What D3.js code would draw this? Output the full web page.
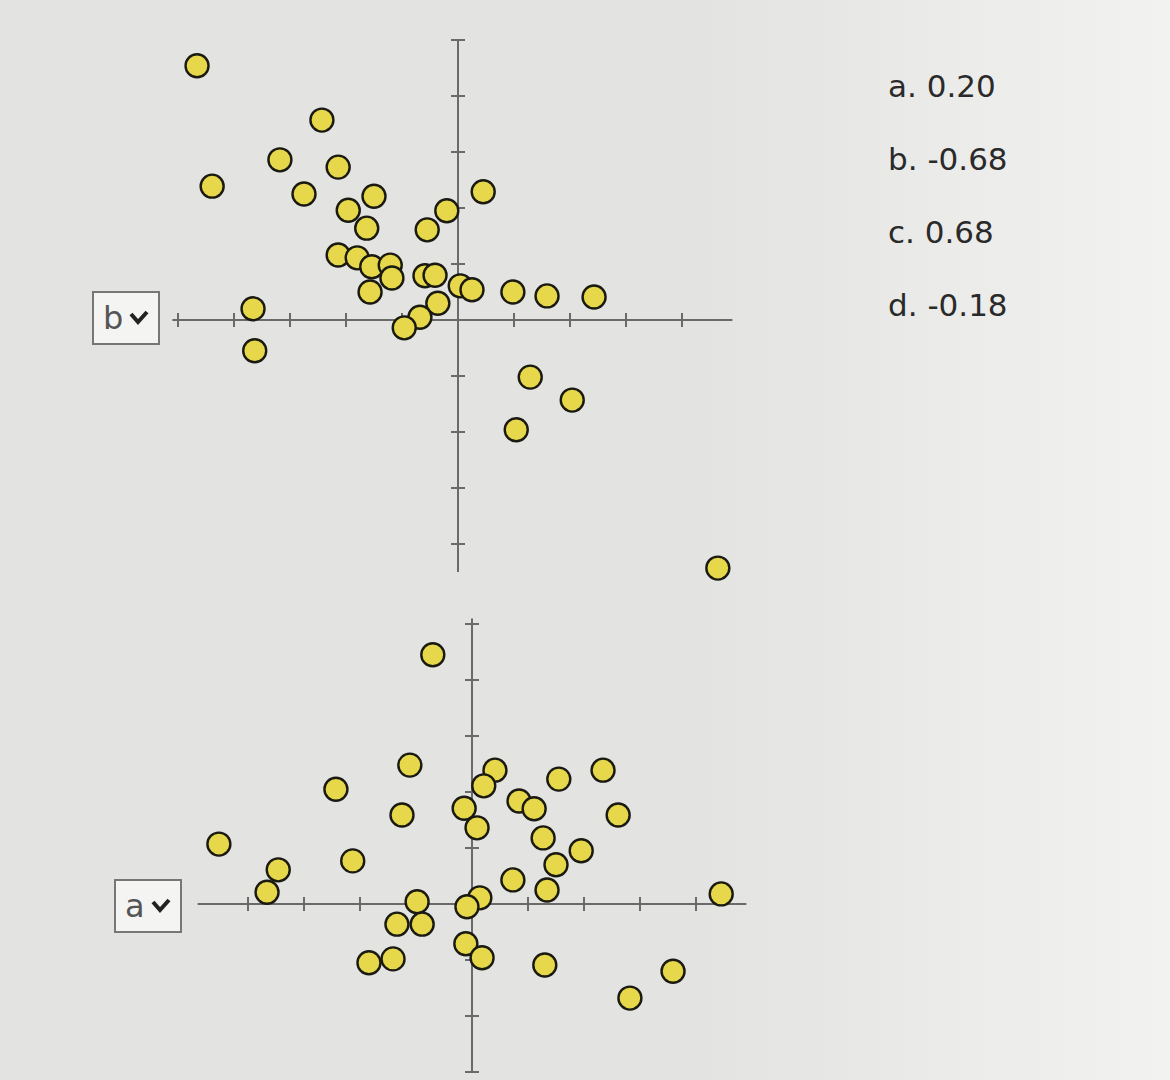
<!DOCTYPE html>
<html><head><meta charset="utf-8">
<script src="https://cdn.jsdelivr.net/npm/d3@7"></script>
<style>body{margin:0;background:#e4e4e2;}svg{display:block}</style>
</head><body>
<svg id="c" width="1170" height="1080"></svg>
<script>
const topX=[-4.66,-2.43,-3.18,-2.14,-4.39,-2.75,-1.5,-1.96,-1.63,0.45,-0.2,-0.55,-2.14,-1.8,-1.54,-1.21,-1.18,-1.57,-0.59,-0.41,0.04,0.25,-0.36,-0.68,-0.96,0.98,1.59,2.43,-3.66,-3.63,1.29,2.04,1.04,4.64];
const topY=[4.54,3.57,2.86,2.73,2.39,2.25,2.21,1.96,1.64,2.29,1.95,1.61,1.16,1.11,0.95,0.98,0.75,0.5,0.79,0.8,0.61,0.54,0.3,0.05,-0.14,0.5,0.43,0.41,0.2,-0.55,-1.02,-1.43,-1.96,-4.43];
const botX=[-0.7,-1.11,0.41,0.21,1.55,2.34,-2.43,-1.25,-0.14,0.84,1.11,2.61,0.09,1.27,-4.52,-2.13,1.95,1.5,-3.46,-3.66,0.73,1.34,-0.98,0.14,-0.09,-1.34,-0.89,-0.11,0.18,-1.84,-1.41,1.3,3.59,2.82,4.45];
const botY=[4.45,2.48,2.39,2.11,2.23,2.39,2.05,1.59,1.71,1.84,1.7,1.59,1.36,1.18,1.07,0.77,0.95,0.7,0.61,0.21,0.43,0.25,0.04,0.11,-0.05,-0.36,-0.36,-0.71,-0.96,-1.05,-0.98,-1.09,-1.2,-1.68,0.18];
const choices=["a. 0.20","b. -0.68","c. 0.68","d. -0.18"];
const labels=["b","a"];
const svg=d3.select("#c");
const g0=svg.append("defs").append("linearGradient").attr("id","bg").attr("x1",0).attr("x2",1);
g0.append("stop").attr("offset","0.6").attr("stop-color","#e3e3e1");
g0.append("stop").attr("offset","1").attr("stop-color","#f2f2f0");
svg.append("rect").attr("width",1170).attr("height",1080).attr("fill","url(#bg)");
function plot(xs,ys,ox,oy,xr,yr,lab,lx,ly){
  const x=d3.scaleLinear().domain([0,1]).range([ox,ox+56]);
  const y=d3.scaleLinear().domain([0,1]).range([oy,oy-56]);
  const g=svg.append("g");
  const st="#6a6a6a";
  g.append("line").attr("x1",x(xr[0])).attr("x2",x(xr[1])).attr("y1",oy).attr("y2",oy).attr("stroke",st).attr("stroke-width",2);
  g.append("line").attr("y1",y(yr[0])).attr("y2",y(yr[1])).attr("x1",ox).attr("x2",ox).attr("stroke",st).attr("stroke-width",2);
  d3.range(Math.ceil(xr[0]),Math.floor(xr[1])+1).filter(v=>v!==0).forEach(v=>g.append("line").attr("x1",x(v)).attr("x2",x(v)).attr("y1",oy-7).attr("y2",oy+7).attr("stroke",st).attr("stroke-width",2));
  d3.range(Math.ceil(yr[0]),Math.floor(yr[1])+1).filter(v=>v!==0).forEach(v=>g.append("line").attr("y1",y(v)).attr("y2",y(v)).attr("x1",ox-7).attr("x2",ox+7).attr("stroke",st).attr("stroke-width",2));
  g.selectAll("circle").data(xs.map((v,i)=>[v,ys[i]])).join("circle")
   .attr("cx",d=>x(d[0])).attr("cy",d=>y(d[1])).attr("r",11.5)
   .attr("fill","#e6d84a").attr("stroke","#1a1a10").attr("stroke-width",2.4);
  const b=svg.append("g").attr("transform",`translate(${lx},${ly})`);
  b.append("rect").attr("width",66).attr("height",52).attr("fill","#f4f4f2").attr("stroke","#777").attr("stroke-width",2);
  b.append("text").attr("x",10).attr("y",37).attr("font-family","DejaVu Sans").attr("font-size",32).attr("fill","#555").text(lab);
  b.append("path").attr("d","M38,22 l7,8 l9,-10").attr("fill","none").attr("stroke","#222").attr("stroke-width",4);
}
plot(topX,topY,458,320,[-5.1,4.9],[-4.5,5],labels[0],93,292);
plot(botX,botY,472,904,[-4.9,4.9],[-3,5.1],labels[1],115,880);
svg.selectAll("text.ch").data(choices).join("text").attr("class","ch")
  .attr("x",888).attr("y",(d,i)=>97+i*73).attr("font-family","DejaVu Sans").attr("font-size",31)
  .attr("fill","#2a2a2a").text(d=>d);
</script>
</body></html>
